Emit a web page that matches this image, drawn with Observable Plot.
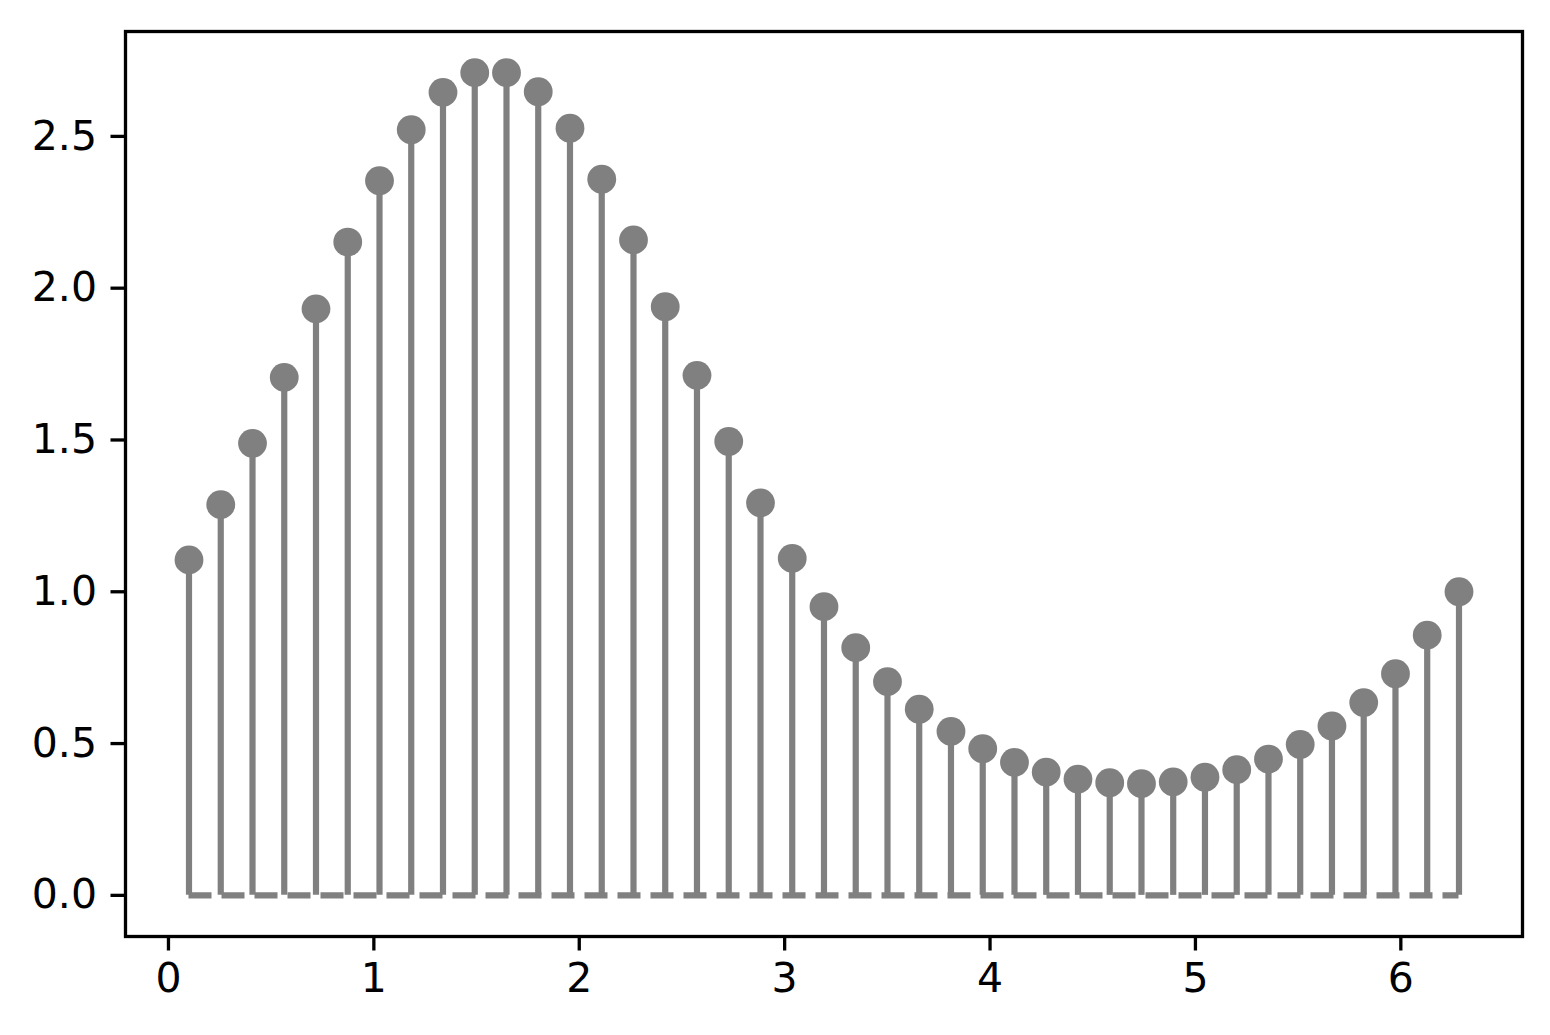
<!DOCTYPE html>
<html>
<head>
<meta charset="utf-8">
<script src="https://cdn.jsdelivr.net/npm/d3@7"></script>
<script src="https://cdn.jsdelivr.net/npm/@observablehq/plot@0.6"></script>
<style>
  html, body { margin: 0; padding: 0; background: #fff; }
</style>
</head>
<body>
<div id="chart"></div>
<script>
const xs = [0.1, 0.2546, 0.4092, 0.5637, 0.7183, 0.8729, 1.0275, 1.1820, 1.3366, 1.4912,
  1.6458, 1.8003, 1.9549, 2.1095, 2.2641, 2.4186, 2.5732, 2.7278, 2.8824, 3.0369,
  3.1915, 3.3461, 3.5007, 3.6552, 3.8098, 3.9644, 4.1190, 4.2735, 4.4281, 4.5827,
  4.7373, 4.8918, 5.0464, 5.2010, 5.3556, 5.5101, 5.6647, 5.8193, 5.9739, 6.1284, 6.2832];
const ys = [1.105, 1.287, 1.489, 1.706, 1.932, 2.152, 2.354, 2.522, 2.645, 2.710,
  2.710, 2.647, 2.527, 2.359, 2.159, 1.939, 1.713, 1.495, 1.293, 1.110,
  0.951, 0.816, 0.704, 0.613, 0.540, 0.483, 0.438, 0.406, 0.383, 0.371,
  0.368, 0.374, 0.389, 0.414, 0.449, 0.497, 0.558, 0.635, 0.730, 0.857, 1.000];
const xTicks = [0, 1, 2, 3, 4, 5, 6];
const yTicks = [0.0, 0.5, 1.0, 1.5, 2.0, 2.5];

const data = xs.map((x, i) => ({x, y: ys[i]}));
const xMin = d3.min(xs), xMax = d3.max(xs), yMax = d3.max(ys);
const xPad = (xMax - xMin) * 0.05, yPad = yMax * 0.05;
const gray = "#808080";

const chart = Plot.plot({
  width: 1550,
  height: 1035,
  marginLeft: 125,
  marginRight: 28,
  marginTop: 31,
  marginBottom: 99,
  style: {fontFamily: "DejaVu Sans", fontSize: "41px", background: "#fff", color: "#000"},
  x: {domain: [xMin - xPad, xMax + xPad]},
  y: {domain: [0 - yPad, yMax + yPad]},
  marks: [
    Plot.ruleX(data, {x: "x", y1: 0, y2: "y", stroke: gray, strokeWidth: 6.2, strokeLinecap: "butt"}),
    Plot.ruleY([0], {x1: xMin, x2: xMax, stroke: gray, strokeWidth: 6.2, strokeDasharray: "23 10", strokeLinecap: "butt"}),
    Plot.dot(data, {x: "x", y: "y", r: 14.4, fill: gray, stroke: "none"}),
    Plot.axisX(xTicks, {tickSize: 14.5, tickPadding: 12, strokeWidth: 3.3, label: null, tickFormat: d3.format("d")}),
    Plot.axisY(yTicks, {tickSize: 14.5, tickPadding: 14, strokeWidth: 3.3, label: null, tickFormat: d3.format(".1f")}),
    Plot.frame({stroke: "#000", strokeWidth: 3.3})
  ]
});
document.getElementById("chart").appendChild(chart);
</script>
</body>
</html>
